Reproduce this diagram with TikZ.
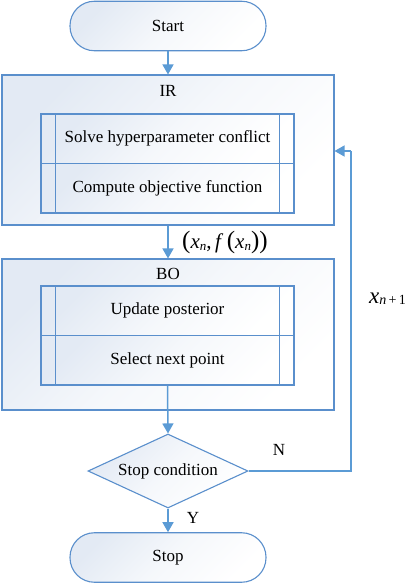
\documentclass[tikz,border=0pt]{standalone}
\usepackage{fontspec}
\setmainfont{Liberation Serif}
\usetikzlibrary{shapes.geometric,arrows.meta,calc}
\definecolor{lc}{HTML}{5B9BD5}
\definecolor{bc}{HTML}{5A8FCC}
\definecolor{fc}{HTML}{E3EAF4}
\begin{document}
\begin{tikzpicture}[x=1pt,y=-1pt,
  font=\fontsize{17}{20}\selectfont,
  shadefill/.style={top color=fc, bottom color=white, middle color=fc!35!white, shading angle=45},
  term/.style={draw=bc, line width=1.1pt, shadefill, rectangle, rounded corners=24.4pt,
    minimum width=196pt, minimum height=49.5pt, inner sep=0pt},
  group/.style={draw=bc, line width=1.1pt, shadefill, rectangle,
    minimum width=332pt, inner sep=0pt},
  sub/.style={draw=bc, line width=1.1pt, rectangle,
    minimum width=253pt, minimum height=49.5pt, inner sep=0pt},
  cond/.style={draw=bc, line width=1.1pt, shadefill, diamond, shape aspect=2.16,
    minimum width=160pt, minimum height=74pt, inner sep=0pt},
  conn/.style={draw=lc, line width=1.5pt, -{Triangle[width=11pt,length=10pt]}},
  plain/.style={draw=lc, line width=1.5pt},
  lbl/.style={inner sep=0pt}
]
\useasboundingbox (0,0) rectangle (412,585);
\fill[white] (0,0) rectangle (412,585);

% Start
\node[term] (start) at (168,26) {Start};

% IR group
\node[group, minimum height=150pt] (IR) at (168,150) {};
\node[lbl] (IRt) at (168,91) {IR};
\node[sub, shadefill] (s1) at (167.5,138.75) {Solve hyperparameter conflict};
\node[sub, shadefill] (s2) at (167.5,188.25) {Compute objective function};
\draw[draw=bc, line width=1.1pt] ($(s1.north west)+(15,0)$) -- ($(s2.south west)+(15,0)$);
\draw[draw=bc, line width=1.1pt] ($(s1.north east)+(-15,0)$) -- ($(s2.south east)+(-15,0)$);

% BO group
\node[group, minimum height=151pt] (BO) at (168,334.5) {};
\node[lbl] (BOt) at (168,274) {BO};
\node[sub, shadefill] (s3) at (167.5,310.75) {Update posterior};
\node[sub, shadefill] (s4) at (167.5,360.25) {Select next point};
\draw[draw=bc, line width=1.1pt] ($(s3.north west)+(15,0)$) -- ($(s4.south west)+(15,0)$);
\draw[draw=bc, line width=1.1pt] ($(s3.north east)+(-15,0)$) -- ($(s4.south east)+(-15,0)$);

% Decision
\node[cond] (dec) at (168,471) {Stop condition};

% Stop
\node[term] (stop) at (168,557.5) {Stop};

% Connectors
\draw[conn] (start.south) -- (IR.north);
\draw[conn] (IR.south) -- (BO.north);
\draw[conn] (s4.south) -- (dec.north);
\draw[conn] (dec.south) -- (stop.north);
\coordinate (fb) at (351,151);
\draw[plain] (dec.east) -| (fb);
\draw[conn] (fb) -- (fb -| IR.east);

% Labels
\node[lbl, anchor=west] (xfx) at (182,242)
  {{\fontsize{25}{25}\selectfont(}\textit{\fontsize{21}{21}\selectfont x}\raisebox{-2pt}{\fontsize{13}{13}\selectfont\textit{n}}{\fontsize{21}{21}\selectfont,\,\textit{f}\,}{\fontsize{25}{25}\selectfont(}\textit{\fontsize{21}{21}\selectfont x}\raisebox{-2pt}{\fontsize{13}{13}\selectfont\textit{n}}{\fontsize{25}{25}\selectfont))}};
\node[lbl, anchor=west] (xn1) at (369,299)
  {\textit{\fontsize{23}{23}\selectfont x}\raisebox{-1pt}{\fontsize{14}{14}\selectfont\textit{n}\,+\,1}};
\node[lbl] (N) at (279,450) {N};
\node[lbl] (Y) at (193,518) {Y};
\end{tikzpicture}
\end{document}
